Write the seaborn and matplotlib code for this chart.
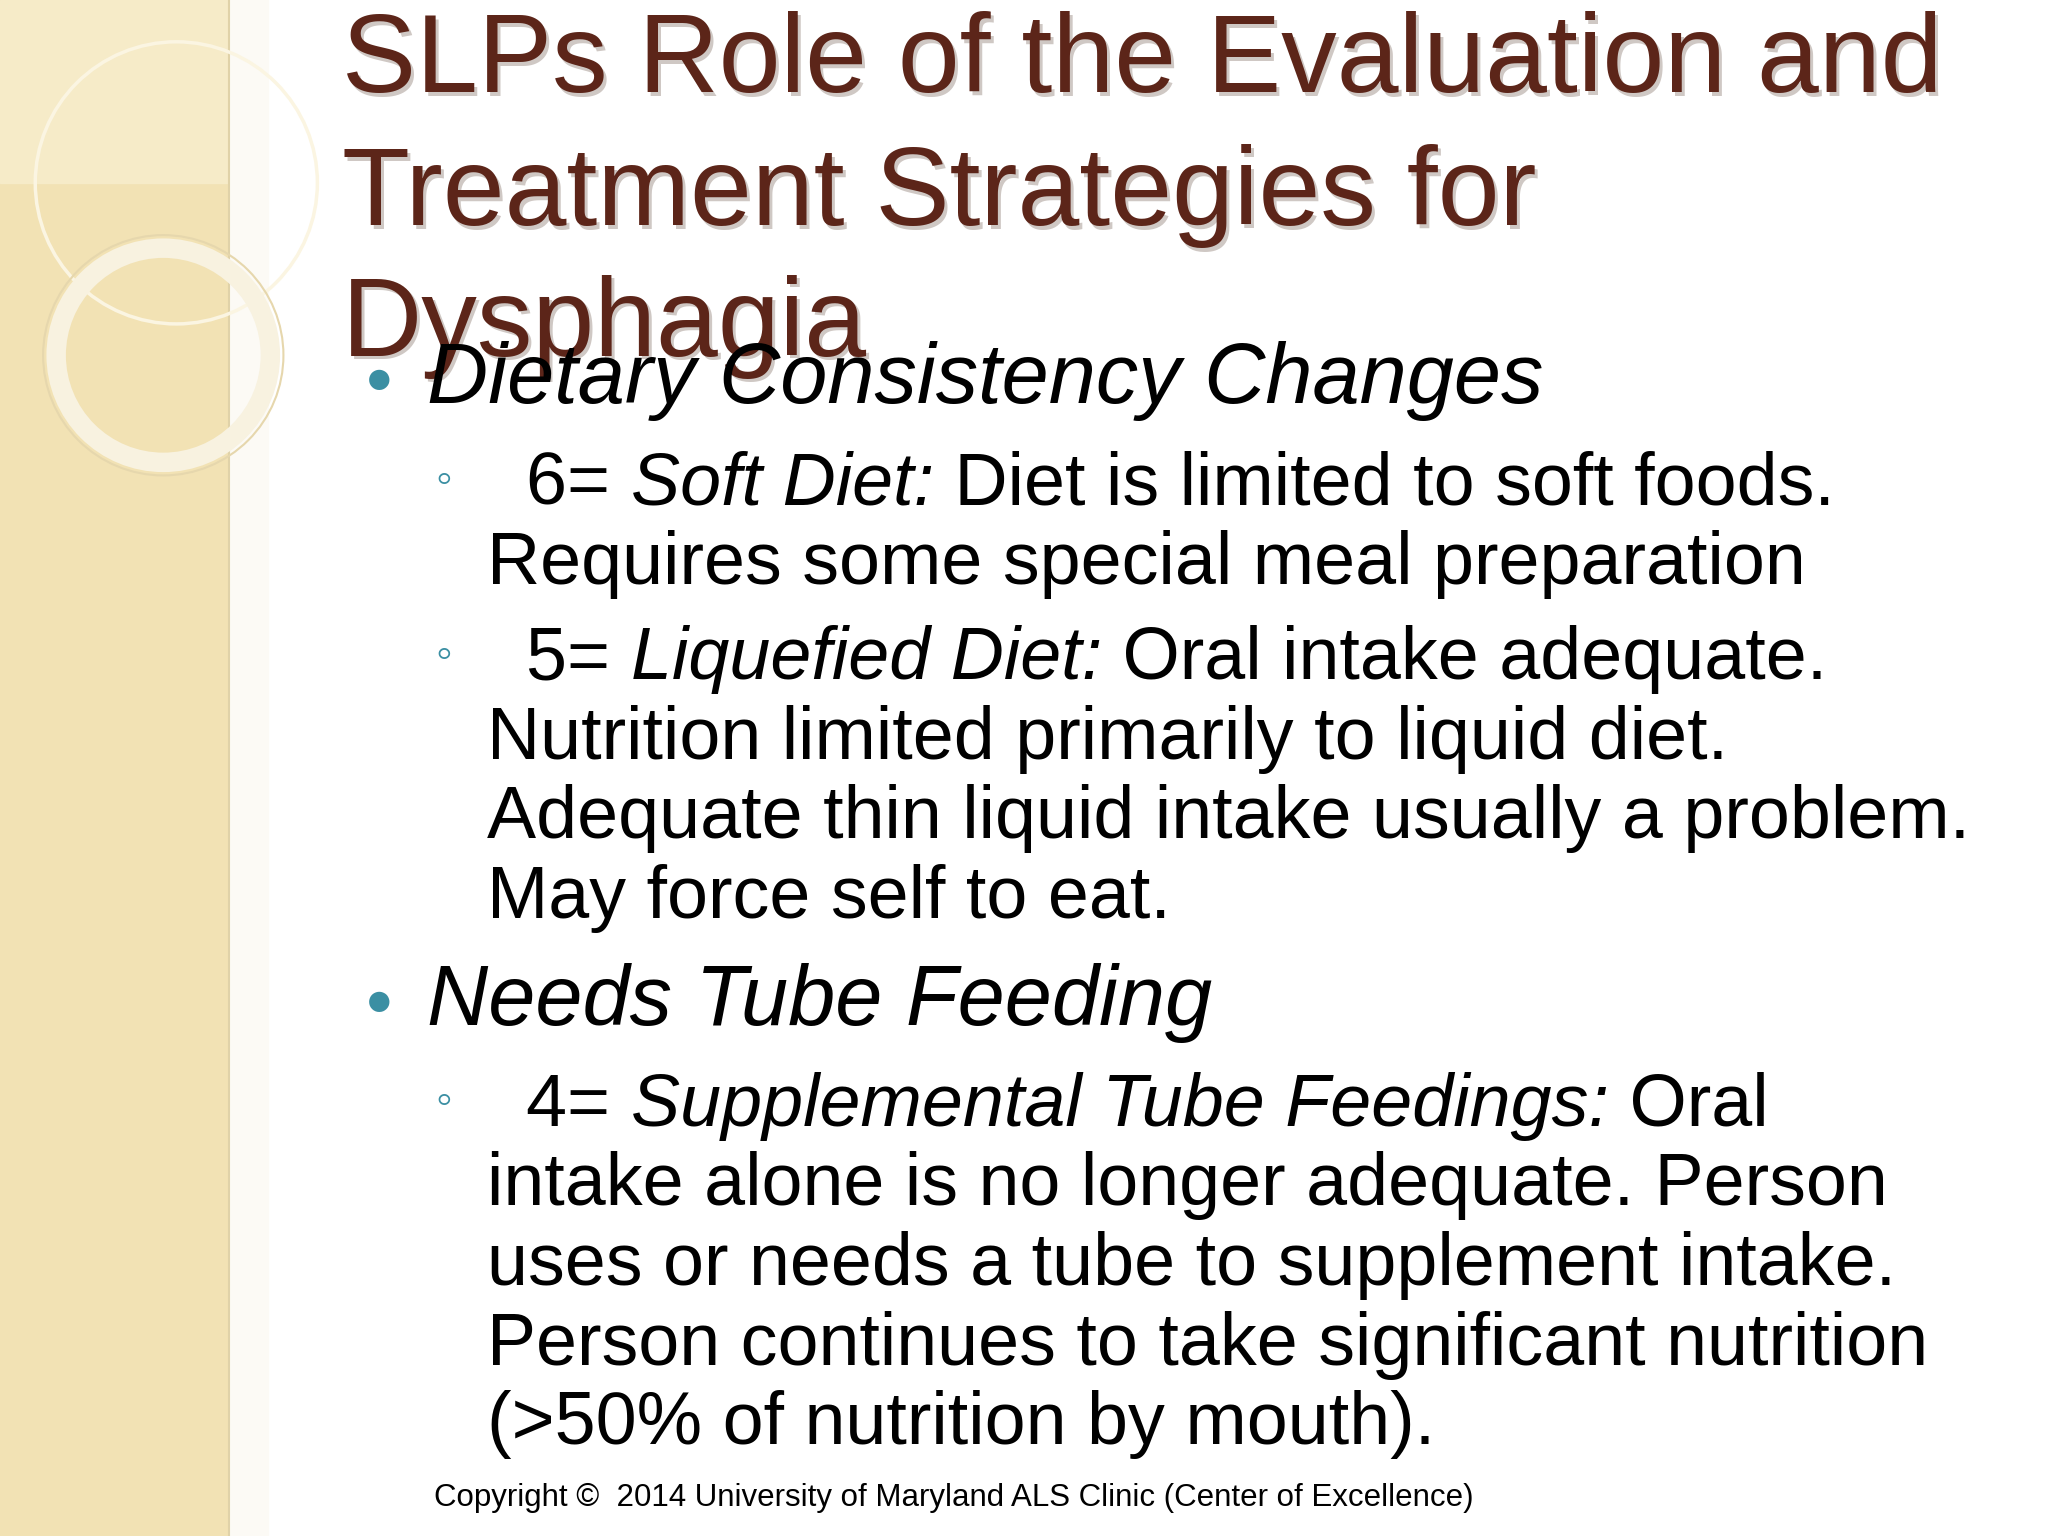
import matplotlib.pyplot as plt
import matplotlib.patches as mpatches
import seaborn as sns

sns.set_theme(style="white")
plt.rcParams["font.family"] = ["Liberation Sans", "DejaVu Sans"]

# slide content
title_lines = ["SLPs Role of the Evaluation and", "Treatment Strategies for", "Dysphagia"]
title_y = [48, 150, 250]

headings = ["Dietary Consistency Changes", "Needs Tube Feeding"]
heading_y = [292, 768]

# each item: first line segments (text, italic), then continuation lines
items = [
    ([("6= ", False), ("Soft Diet:", True), (" Diet is limited to soft foods.", False)],
     ["Requires some special meal preparation"], 371),
    ([("5= ", False), ("Liquefied Diet:", True), (" Oral intake adequate.", False)],
     ["Nutrition limited primarily to liquid diet.",
      "Adequate thin liquid intake usually a problem.",
      "May force self to eat."], 505),
    ([("4= ", False), ("Supplemental Tube Feedings:", True), (" Oral", False)],
     ["intake alone is no longer adequate. Person",
      "uses or needs a tube to supplement intake.",
      "Person continues to take significant nutrition",
      "(>50% of nutrition by mouth)."], 847),
]
line_step = 61
copyright_text = "Copyright \u00a9  2014 University of Maryland ALS Clinic (Center of Excellence)"

W, H = 1568, 1176
fig = plt.figure(figsize=(20.48, 15.36), dpi=100)
ax = fig.add_axes([0, 0, 1, 1])
ax.set_xlim(0, W)
ax.set_ylim(H, 0)
ax.axis("off")
fig.patch.set_facecolor("white")

# left decorative band
ax.add_patch(mpatches.Rectangle((0, 0), 175, H, color="#f2e2b4", zorder=0))
ax.add_patch(mpatches.Rectangle((0, 0), 175, 140, color="#f6ebc8", zorder=0))
ax.plot([175, 175], [0, H], color="#e0d2a8", lw=1.5, zorder=1)
ax.add_patch(mpatches.Circle((135, 140), 108, fill=False, ec="#fbf5e2", lw=2.5, zorder=1))
ax.add_patch(mpatches.Circle((125, 272), 82, fill=False, ec="#f8f2e0", lw=14, zorder=1))
ax.add_patch(mpatches.Circle((125, 272), 92, fill=False, ec="#e6d7ad", lw=1.5, zorder=1))
ax.add_patch(mpatches.Rectangle((175, 0), 30, H, color="#fcfaf5", zorder=0))

# title with shadow
for t, y in zip(title_lines, title_y):
    ax.text(264, y + 3, t, fontsize=80, color="#cfc8c4", va="center", ha="left", zorder=2)
    ax.text(262, y, t, fontsize=80, color="#5c2519", va="center", ha="left", zorder=3)

# headings
for t, y in zip(headings, heading_y):
    ax.text(290, y, "\u25cf", fontsize=34, color="#3b8fa3", va="center", ha="center", zorder=4)
    ax.text(327, y, t, fontsize=61, style="italic", color="black", va="center", ha="left", zorder=4)

# sub items
for segs, cont, y in items:
    ax.text(340, y - 3, "\u25e6", fontsize=34, color="#3b8fa3", va="center", ha="center", zorder=4)
    prev = ax.text(403, y, segs[0][0], fontsize=53, style="italic" if segs[0][1] else "normal",
                   color="black", va="center", ha="left", zorder=4)
    for t, it in segs[1:]:
        prev = ax.annotate(t, xy=(1, 0.5), xycoords=prev, fontsize=53,
                           style="italic" if it else "normal", color="black",
                           va="center", ha="left", zorder=4)
    for k, t in enumerate(cont):
        ax.text(373, y + (k + 1) * line_step, t, fontsize=53, color="black",
                va="center", ha="left", zorder=4)

ax.text(332, 1147, copyright_text, fontsize=22.5, color="black", va="center", ha="left")

fig.savefig("out.png", dpi=100)
